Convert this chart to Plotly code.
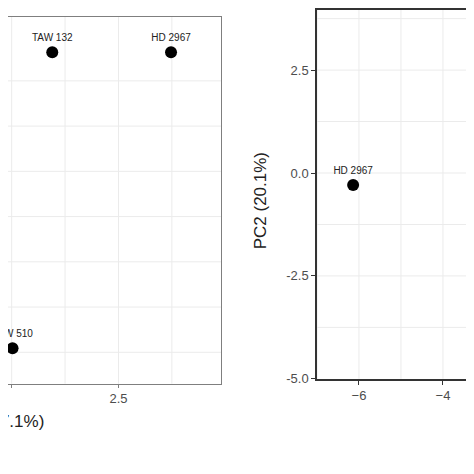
import plotly.graph_objects as go

# left panel (cut off on the left)
left_names = ["TAW 132", "HD 2967", "TAW 510"]
left_pc1 = [0.95, 3.73, 0.02]
left_pc2 = [5.79, 5.79, -2.39]

# right panel (cut off on the right)
right_names = ["HD 2967"]
right_pc1 = [-6.14]
right_pc2 = [-0.29]

W = 474
grid = "#ebebeb"
tickfont = dict(family="Liberation Sans, Arial", size=13, color="#4d4d4d")

fig = go.Figure()
fig.add_trace(go.Scatter(x=left_pc1, y=left_pc2, mode="markers+text", text=left_names,
                         textposition="top center", textfont=dict(size=10, color="#222"),
                         marker=dict(size=12, color="black"), xaxis="x", yaxis="y",
                         cliponaxis=False))
fig.add_trace(go.Scatter(x=right_pc1, y=right_pc2, mode="markers+text", text=right_names,
                         textposition="top center", textfont=dict(size=10, color="#222"),
                         marker=dict(size=12, color="black"), xaxis="x2", yaxis="y2",
                         cliponaxis=False))

fig.update_layout(
    width=W, height=W, margin=dict(l=0, r=0, t=0, b=0),
    plot_bgcolor="white", paper_bgcolor="white", showlegend=False,
    font=dict(family="Liberation Sans, Arial"),
    xaxis=dict(domain=[0, 213 / W], range=[-0.086, 4.9], tickvals=[0, 2.5], ticktext=["0.0", "2.5"],
               showgrid=False, zeroline=False, showline=True, mirror=True, linecolor="#7f7f7f",
               ticks="outside", ticklen=3, tickcolor="#7f7f7f", tickfont=tickfont),
    yaxis=dict(domain=[1 - 382 / W, 1 - 8 / W], range=[-3.37, 6.77], showticklabels=False,
               showgrid=False, zeroline=False, showline=True, mirror=True, linecolor="#7f7f7f"),
    xaxis2=dict(domain=[309 / W, 1], range=[-7.0, -3.07], anchor="y2", tickvals=[-6, -4],
                showgrid=False, zeroline=False, showline=True, mirror=True, linecolor="#333",
                linewidth=1.5, ticks="outside", ticklen=4, tickcolor="#333", tickfont=tickfont),
    yaxis2=dict(domain=[1 - 377 / W, 1 - 1 / W], range=[-5.0, 3.96], anchor="x2",
                tickvals=[-5, -2.5, 0, 2.5], ticktext=["-5.0", "-2.5", "0.0", "2.5"],
                showgrid=False, zeroline=False, showline=True, linecolor="#333",
                linewidth=1.5, ticks="outside", ticklen=4, tickcolor="#333", tickfont=tickfont),
)

# light grid lines (major + minor)
for v in [-1.25, 0, 1.25, 2.5, 3.75]:
    fig.add_shape(type="line", xref="x", yref="y domain", x0=v, x1=v, y0=0, y1=1,
                  line=dict(color=grid, width=1), layer="below")
for v in [-2.5, -1.25, 0, 1.25, 2.5, 3.75, 5.0]:
    fig.add_shape(type="line", xref="x domain", yref="y", x0=0, x1=1, y0=v, y1=v,
                  line=dict(color=grid, width=1), layer="below")
for v in [-7, -6, -5, -4]:
    fig.add_shape(type="line", xref="x2", yref="y2 domain", x0=v, x1=v, y0=0, y1=1,
                  line=dict(color=grid, width=1), layer="below")
for v in [-3.75, -2.5, -1.25, 0, 1.25, 2.5, 3.75]:
    fig.add_shape(type="line", xref="x2 domain", yref="y2", x0=0, x1=1, y0=v, y1=v,
                  line=dict(color=grid, width=1), layer="below")

fig.add_annotation(text="PC1 (47.1%)", xref="paper", yref="paper", x=38 / W, y=1 - 420 / W,
                   xanchor="right", yanchor="middle", showarrow=False,
                   font=dict(size=17, color="#222"))
fig.add_annotation(text="PC2 (20.1%)", xref="paper", yref="paper", x=252 / W, y=1 - 195 / W,
                   textangle=-90, xanchor="center", yanchor="middle", showarrow=False,
                   font=dict(size=17, color="#222"))

fig.write_html("out.html")
